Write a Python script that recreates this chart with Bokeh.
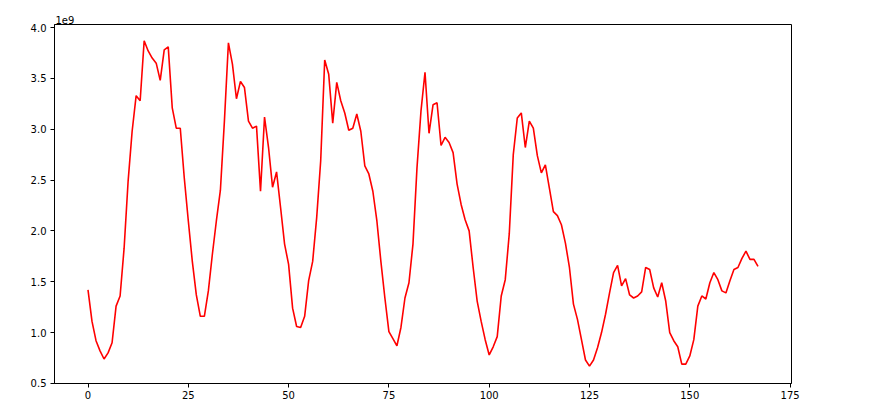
from bokeh.plotting import figure
from bokeh.models import Range1d, FixedTicker, CustomJSTickFormatter
from bokeh.embed import file_html
from bokeh.resources import INLINE

# values in units of 1e9
values = [
    1.42, 1.11, 0.92, 0.82, 0.74, 0.80, 0.90, 1.26, 1.36, 1.83,
    2.49, 2.98, 3.33, 3.28, 3.87, 3.77, 3.70, 3.65, 3.48, 3.78,
    3.81, 3.21, 3.01, 3.01, 2.52, 2.10, 1.70, 1.37, 1.16, 1.16,
    1.41, 1.77, 2.10, 2.40, 3.08, 3.85, 3.64, 3.30, 3.47, 3.41,
    3.08, 3.01, 3.03, 2.39, 3.12, 2.82, 2.43, 2.58, 2.23, 1.87,
    1.67, 1.24, 1.06, 1.05, 1.16, 1.51, 1.70, 2.13, 2.69, 3.68,
    3.54, 3.06, 3.46, 3.28, 3.16, 2.99, 3.01, 3.15, 2.98, 2.64,
    2.56, 2.39, 2.10, 1.70, 1.34, 1.01, 0.94, 0.87, 1.05, 1.34,
    1.49, 1.87, 2.62, 3.18, 3.56, 2.96, 3.24, 3.26, 2.84, 2.92,
    2.87, 2.77, 2.46, 2.26, 2.11, 2.00, 1.64, 1.31, 1.11, 0.93,
    0.78, 0.86, 0.96, 1.36, 1.52, 1.97, 2.75, 3.11, 3.16, 2.82,
    3.08, 3.01, 2.74, 2.57, 2.65, 2.42, 2.19, 2.15, 2.06, 1.88,
    1.64, 1.28, 1.13, 0.93, 0.73, 0.67, 0.73, 0.85, 1.00, 1.18,
    1.39, 1.59, 1.66, 1.46, 1.53, 1.37, 1.34, 1.36, 1.40, 1.64,
    1.62, 1.44, 1.35, 1.49, 1.31, 1.00, 0.92, 0.86, 0.69, 0.69,
    0.77, 0.93, 1.26, 1.36, 1.33, 1.49, 1.59, 1.52, 1.41, 1.39,
    1.51, 1.62, 1.64, 1.73, 1.80, 1.72, 1.72, 1.65,
]
scale = 1e9
x = list(range(len(values)))
y = [v * scale for v in values]

x_ticks = [0, 25, 50, 75, 100, 125, 150, 175]
y_ticks = [0.5, 1.0, 1.5, 2.0, 2.5, 3.0, 3.5, 4.0]

xpad = (max(x) - min(x)) * 0.05
ypad = (max(y) - min(y)) * 0.05

p = figure(
    width=870, height=411,
    output_backend="svg", toolbar_location=None,
    x_range=Range1d(min(x) - xpad, max(x) + xpad),
    y_range=Range1d(min(min(y) - ypad, y_ticks[0] * scale - 1e6), max(y) + ypad),
    min_border_left=54, min_border_right=79,
    min_border_top=24, min_border_bottom=28,
    title="1e9",
)
p.title.align = "left"
p.title.text_font = "DejaVu Sans"
p.title.text_font_size = "10px"
p.title.text_font_style = "normal"
p.title.text_color = "black"
p.title.standoff = 2
p.title.offset = 1

p.background_fill_color = "white"
p.border_fill_color = "white"
p.outline_line_color = "black"
p.outline_line_width = 1
p.xgrid.visible = False
p.ygrid.visible = False

p.line(x, y, line_color="red", line_width=1.6)

for ax in (p.xaxis[0], p.yaxis[0]):
    ax.axis_line_color = "black"
    ax.major_tick_line_color = "black"
    ax.major_tick_out = 4
    ax.major_tick_in = 0
    ax.minor_tick_out = 0
    ax.minor_tick_in = 0
    ax.major_label_text_font = "DejaVu Sans"
    ax.major_label_text_font_size = "10px"
    ax.major_label_text_color = "black"

p.xaxis.ticker = FixedTicker(ticks=x_ticks)
p.xaxis.major_label_standoff = 3
p.yaxis.ticker = FixedTicker(ticks=[t * scale for t in y_ticks])
p.yaxis.major_label_standoff = 4
p.yaxis.formatter = CustomJSTickFormatter(code="return (tick/1e9).toFixed(1);")

open("out.html", "w").write(file_html(p, INLINE))
